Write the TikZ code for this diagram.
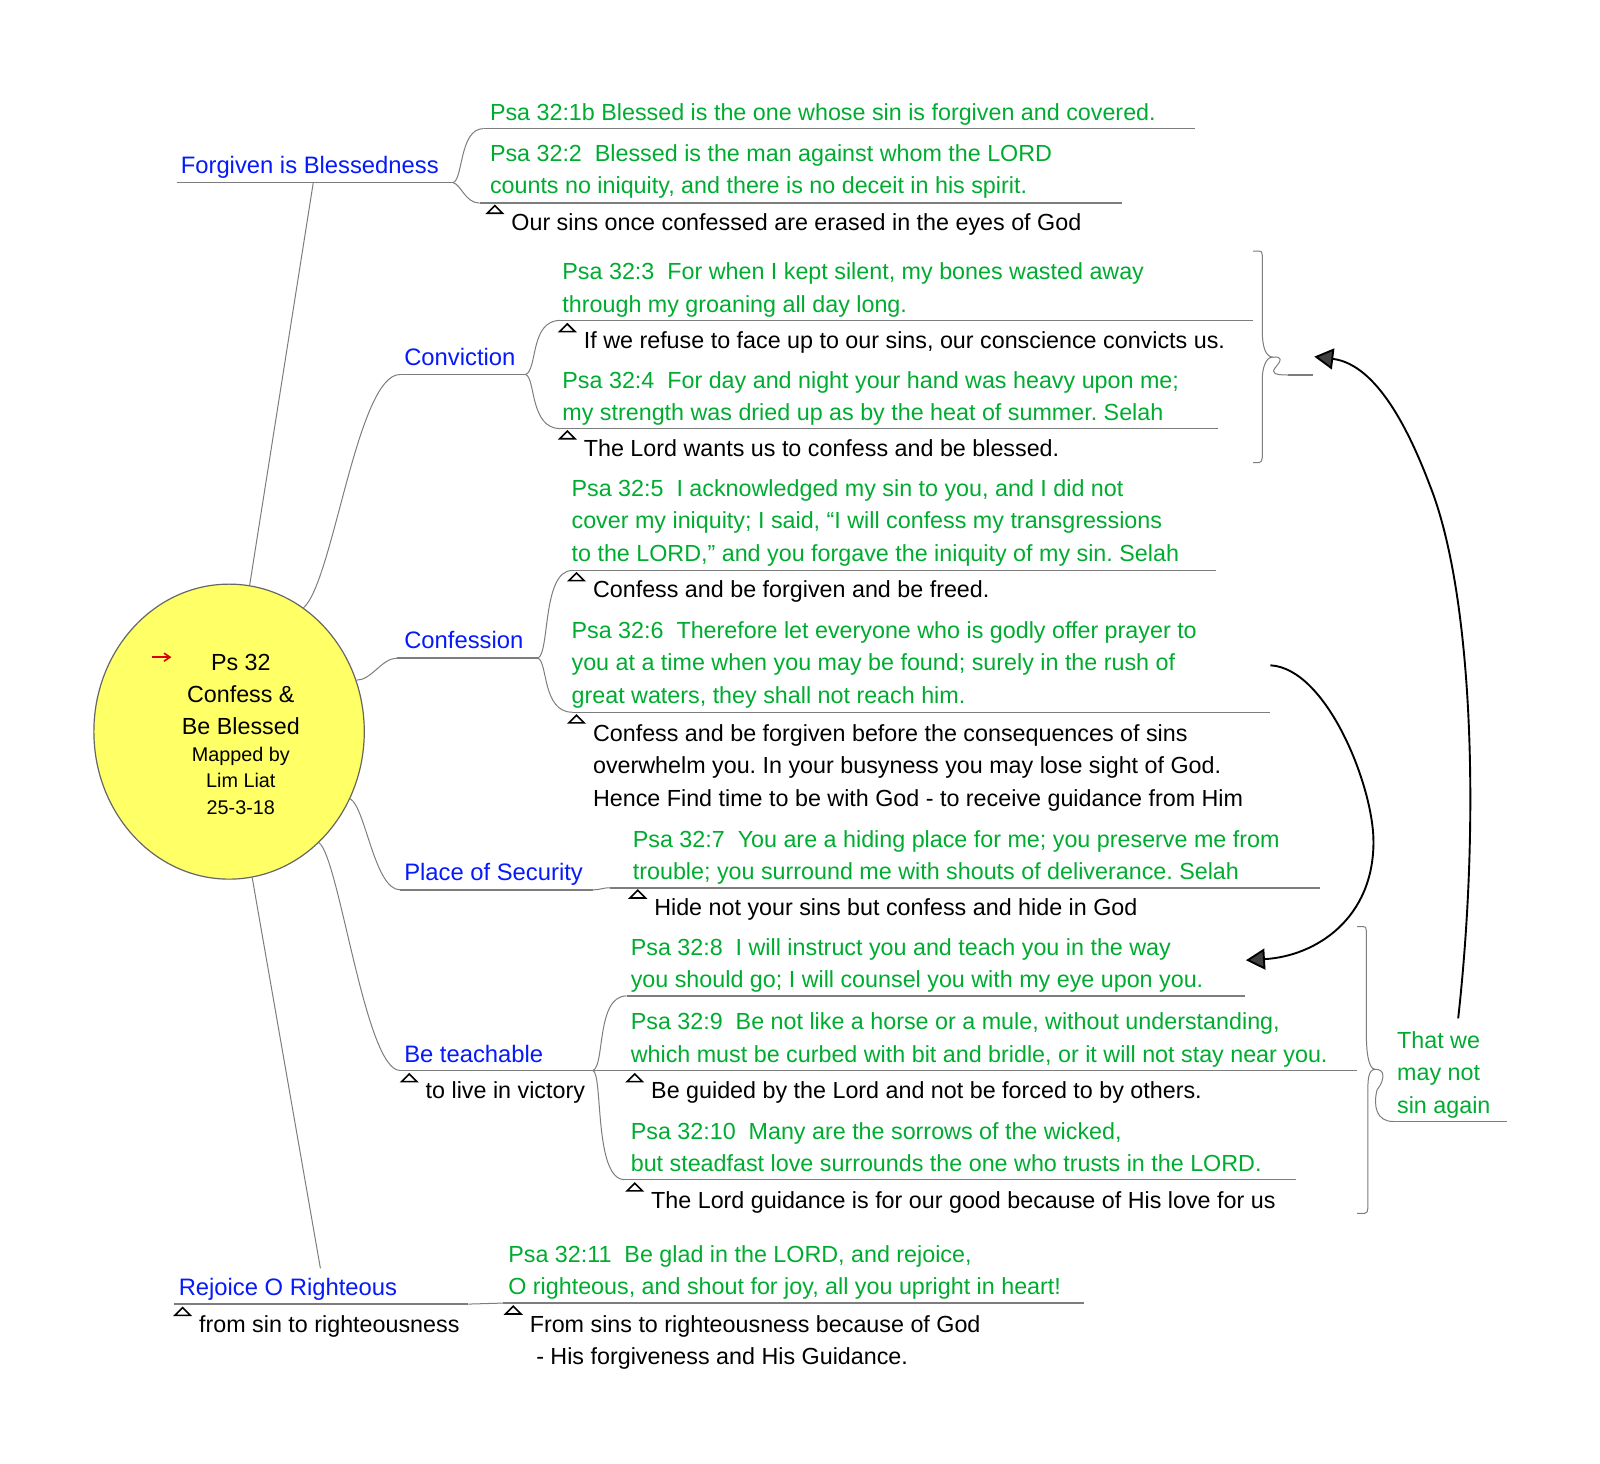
\documentclass[tikz,border=0pt]{standalone}
\usepackage{fontspec}
\setmainfont{Liberation Sans}
\usetikzlibrary{
  arrows.meta,
  shapes.geometric,
}
\definecolor{versegreen}{RGB}{0,172,48}
\definecolor{topicblue}{RGB}{5,25,250}
\definecolor{rootyellow}{RGB}{255,255,102}
\definecolor{linegray}{RGB}{125,125,125}
\tikzset{
  line/.style={draw=linegray, line width=1.5pt},
  link/.style={draw=linegray, line width=1pt},
  topic/.style={anchor=base west, inner sep=0pt, text=topicblue, font=\fontsize{23.8}{32.3}\selectfont},
  verse/.style={anchor=base west, inner sep=0pt, align=left, text=versegreen, font=\fontsize{23.3}{32.3}\selectfont},
  note/.style={anchor=base west, inner sep=0pt, align=left, text=black, font=\fontsize{23.3}{32.3}\selectfont},
  flag/.pic={\draw [black, line width=1.6pt] (-23.5,-17) -- (-16,-24.5) -- (-8.5,-17) -- cycle;},
  bigarrow/.style={draw=black, line width=1.9pt, -{Triangle[length=19pt, width=21pt, fill=black!75]}},
}

\begin{document}
\frenchspacing
\begin{tikzpicture}[x=1.0204pt, y=-1.0204pt]
    \useasboundingbox (0,0) rectangle (1568,1434.7);
    % root
    \node [ellipse, draw=black!60, line width=1.2pt, fill=rootyellow, minimum width=270.4pt, minimum height=295pt, inner sep=0pt] (root) at (224.5,717) {};
    \node [anchor=base, inner sep=0pt, align=center, font=\fontsize{23.3}{32.3}\selectfont] (title) at (236,720) {Ps 32\\Confess \&\\Be Blessed};
    \node [anchor=base, inner sep=0pt, align=center, font=\fontsize{19.8}{26.6}\selectfont] (mapped) at (236,798) {Mapped by\\Lim Liat\\25-3-18};
    \coordinate (redS) at (148.5,644);
    \coordinate (redE) at (168,644);
    \draw [-{Straight Barb[length=6pt, width=8pt]}, draw=red!85!black, line width=1.6pt] (redS) to (redE);

    % topics
    \node [topic] (forgiven) at (177,170) {Forgiven is Blessedness};
    \node [topic] (conviction) at (396,358) {Conviction};
    \node [topic] (confession) at (396,636) {Confession};
    \node [topic] (security) at (396,863) {Place of Security};
    \node [topic] (teachable) at (396,1041) {Be teachable};
    \node [topic] (rejoice) at (175,1270) {Rejoice O Righteous};
    \node [note] (teachableN) at (417,1077) {to live in victory};
    \node [note] (rejoiceN) at (195,1306) {from sin to righteousness};

    % verses
    \node [verse] (psaA) at (480,118) {Psa 32:1b Blessed is the one whose sin is forgiven and covered.};
    \node [verse] (psaB) at (480,190) {Psa 32:2\ \ Blessed is the man against whom the LORD\\counts no iniquity, and there is no deceit in his spirit.};
    \node [verse] (psaC) at (551,306) {Psa 32:3\ \ For when I kept silent, my bones wasted away\\through my groaning all day long.};
    \node [verse] (psaD) at (551,412) {Psa 32:4\ \ For day and night your hand was heavy upon me;\\my strength was dried up as by the heat of summer. Selah};
    \node [verse] (psaE) at (560,550) {Psa 32:5\ \ I acknowledged my sin to you, and I did not\\cover my iniquity; I said, “I will confess my transgressions\\to the LORD,” and you forgave the iniquity of my sin. Selah};
    \node [verse] (psaF) at (560,689) {Psa 32:6\ \ Therefore let everyone who is godly offer prayer to\\you at a time when you may be found; surely in the rush of\\great waters, they shall not reach him.};
    \node [verse] (psaG) at (620,862) {Psa 32:7\ \ You are a hiding place for me; you preserve me from\\trouble; you surround me with shouts of deliverance. Selah};
    \node [verse] (psaH) at (618,968) {Psa 32:8\ \ I will instruct you and teach you in the way\\you should go; I will counsel you with my eye upon you.};
    \node [verse] (psaI) at (618,1041) {Psa 32:9\ \ Be not like a horse or a mule, without understanding,\\which must be curbed with bit and bridle, or it will not stay near you.};
    \node [verse] (psaJ) at (618,1148) {Psa 32:10\ \ Many are the sorrows of the wicked,\\but steadfast love surrounds the one who trusts in the LORD.};
    \node [verse] (psaK) at (498,1269) {Psa 32:11\ \ Be glad in the LORD, and rejoice,\\O righteous, and shout for joy, all you upright in heart!};
    \node [verse] (again) at (1369,1091) {That we\\may not\\sin again};

    % notes
    \node [note] (noteB) at (501,226) {Our sins once confessed are erased in the eyes of God};
    \node [note] (noteC) at (572,342) {If we refuse to face up to our sins, our conscience convicts us.};
    \node [note] (noteD) at (572,447) {The Lord wants us to confess and be blessed.};
    \node [note] (noteE) at (581,586) {Confess and be forgiven and be freed.};
    \node [note] (noteF) at (581,790) {Confess and be forgiven before the consequences of sins\\overwhelm you. In your busyness you may lose sight of God.\\Hence Find time to be with God - to receive guidance from Him};
    \node [note] (noteG) at (641,897) {Hide not your sins but confess and hide in God};
    \node [note] (noteI) at (638,1077) {Be guided by the Lord and not be forced to by others.};
    \node [note] (noteJ) at (638,1184) {The Lord guidance is for our good because of His love for us};
    \node [note] (noteK) at (519,1337) {From sins to righteousness because of God\\\ - His forgiveness and His Guidance.};

    % note flags
    \pic at (noteB.base west) {flag};
    \pic at (noteC.base west) {flag};
    \pic at (noteD.base west) {flag};
    \pic at (noteE.base west) {flag};
    \pic at ([shift={(0,-64.6)}]noteF.base west) {flag};
    \pic at (noteG.base west) {flag};
    \pic at (noteI.base west) {flag};
    \pic at (noteJ.base west) {flag};
    \pic at ([shift={(0,-32.3)}]noteK.base west) {flag};
    \pic at (teachableN.base west) {flag};
    \pic at (rejoiceN.base west) {flag};

    % rule ends
    \coordinate (forgivenS) at (173,179);
    \coordinate (forgivenE) at (444,179);
    \coordinate (forgivenF) at (307,179);
    \coordinate (psaAs) at (474,126);
    \coordinate (psaAe) at (1171,126);
    \coordinate (psaBs) at (470,199);
    \coordinate (psaBe) at (1100,199);
    \coordinate (convictionS) at (392,367);
    \coordinate (convictionE) at (515,367);
    \coordinate (psaCs) at (549,314);
    \coordinate (psaCe) at (1228,314);
    \coordinate (psaDs) at (549,420);
    \coordinate (psaDe) at (1194,420);
    \coordinate (confessionS) at (389,645);
    \coordinate (confessionE) at (527,645);
    \coordinate (psaEs) at (561,559);
    \coordinate (psaEe) at (1192,559);
    \coordinate (psaFs) at (561,698);
    \coordinate (psaFe) at (1245,698);
    \coordinate (securityS) at (392,872);
    \coordinate (securityE) at (581,872);
    \coordinate (psaGs) at (598,870);
    \coordinate (psaGe) at (1294,870);
    \coordinate (teachableS) at (392,1049);
    \coordinate (teachableE) at (581,1049);
    \coordinate (psaHs) at (614,976);
    \coordinate (psaHe) at (1220,976);
    \coordinate (psaIe) at (1330,1049);
    \coordinate (psaJs) at (612,1156);
    \coordinate (psaJe) at (1270,1156);
    \coordinate (rejoiceS) at (171,1278);
    \coordinate (rejoiceE) at (459,1278);
    \coordinate (psaKs) at (493,1277);
    \coordinate (psaKe) at (1062,1277);
    \coordinate (rejoiceF) at (314,1243);

    % rules
    \draw [line] (forgivenS) to (forgivenE);
    \draw [line] (psaAs) to (psaAe);
    \draw [line] (psaBs) to (psaBe);
    \draw [line] (convictionS) to (convictionE);
    \draw [line] (psaCs) to (psaCe);
    \draw [line] (psaDs) to (psaDe);
    \draw [line] (confessionS) to (confessionE);
    \draw [line] (psaEs) to (psaEe);
    \draw [line] (psaFs) to (psaFe);
    \draw [line] (securityS) to (securityE);
    \draw [line] (psaGs) to (psaGe);
    \draw [line] (teachableS) to (teachableE);
    \draw [line] (teachableE) to (psaIe);
    \draw [line] (psaHs) to (psaHe);
    \draw [line] (psaJs) to (psaJe);
    \draw [line] (rejoiceS) to (rejoiceE);
    \draw [line] (psaKs) to (psaKe);

    % branches
    \draw [link] (forgivenE) .. controls +(10,-3) and +(-24,0) .. (psaAs);
    \draw [link] (forgivenE) .. controls +(8,2) and +(-14,0) .. (psaBs);
    \draw [link] (convictionE) .. controls +(12,-4) and +(-30,0) .. (psaCs);
    \draw [link] (convictionE) .. controls +(10,3) and +(-30,0) .. (psaDs);
    \draw [link] (confessionE) .. controls +(12,-4) and +(-30,0) .. (psaEs);
    \draw [link] (confessionE) .. controls +(10,3) and +(-30,0) .. (psaFs);
    \draw [link] (securityE) .. controls +(8,0) and +(-8,0) .. (psaGs);
    \draw [link] (teachableE) .. controls +(12,-4) and +(-30,0) .. (psaHs);
    \draw [link] (teachableE) .. controls +(10,3) and +(-30,0) .. (psaJs);
    \draw [link] (rejoiceE) to (psaKs);

    % root links
    \draw [link] (root.82.3) to (forgivenF);
    \draw [link] (root.59.6) .. controls +(29,-25) and +(-42,0) .. (convictionS);
    \draw [link] (root.22.7) .. controls +(15,0) and +(-15,0) .. (confessionS);
    \draw [link] (root.-29.8) .. controls +(15,8) and +(-25,0) .. (securityS);
    \draw [link] (root.-51.8) .. controls +(20,15) and +(-34,0) .. (teachableS);
    \draw [link] (root.-81) to (rejoiceF);

    % braces
    \coordinate (braceAtop) at (1228,246);
    \coordinate (braceAjoin) at (1247,350);
    \coordinate (braceAbot) at (1228,453.4);
    \coordinate (braceAtail) at (1262,367.5);
    \coordinate (braceAend) at (1287,367.5);
    \draw [link] (braceAtop) -- ++(6,0) .. controls +(2,0) and +(0,-3) .. ++(3,4) -- ++(0,73) .. controls +(0,17) and +(-7,-1) .. (braceAjoin) .. controls +(-7,0) and +(0,-10) .. ++(-10,22) -- ++(0,76) .. controls +(0,3) and +(2,0) .. ++(-3,5.4) -- (braceAbot);
    \draw [link] (braceAjoin) .. controls +(10,-1) and +(6,-7) .. ++(3,10) .. controls +(-5,6) and +(-12,0) .. (braceAtail);
    \draw [line] (braceAtail) to (braceAend);
    \coordinate (braceBtop) at (1330,908);
    \coordinate (braceBjoin) at (1347.5,1048);
    \coordinate (braceBbot) at (1330,1189);
    \coordinate (braceBtail) at (1365,1099);
    \coordinate (braceBend) at (1477,1099);
    \draw [link] (braceBtop) -- ++(6,0) .. controls +(2,0) and +(0,-3) .. ++(3,4) -- ++(0,100) .. controls +(0,17) and +(-7,-1) .. (braceBjoin) .. controls +(-7,0) and +(0,-10) .. ++(-7,22) -- ++(0,114) .. controls +(0,3) and +(2,0) .. ++(-3,5) -- (braceBbot);
    \draw [link] (braceBjoin) .. controls +(10,-1) and +(8,-10) .. ++(2,20) .. controls +(-4,16) and +(-16,0) .. (braceBtail);
    \draw [line] (braceBtail) to (braceBend);

    % big arrows
    \coordinate (backS) at (1429,998);
    \coordinate (backM) at (1401,475);
    \coordinate (backE) at (1288,349.5);
    \coordinate (lateS) at (1245,652);
    \coordinate (lateM) at (1346,825);
    \coordinate (lateE) at (1221,941);
    \draw [bigarrow] (backS) .. controls +(22,-198) and +(42,105) .. (backM) .. controls +(-19,-50) and +(62,7.5) .. (backE);
    \draw [bigarrow] (lateS) .. controls +(55,3) and +(0,-55) .. (lateM) .. controls +(0,75) and +(69,-4) .. (lateE);
  \end{tikzpicture}
\end{document}
